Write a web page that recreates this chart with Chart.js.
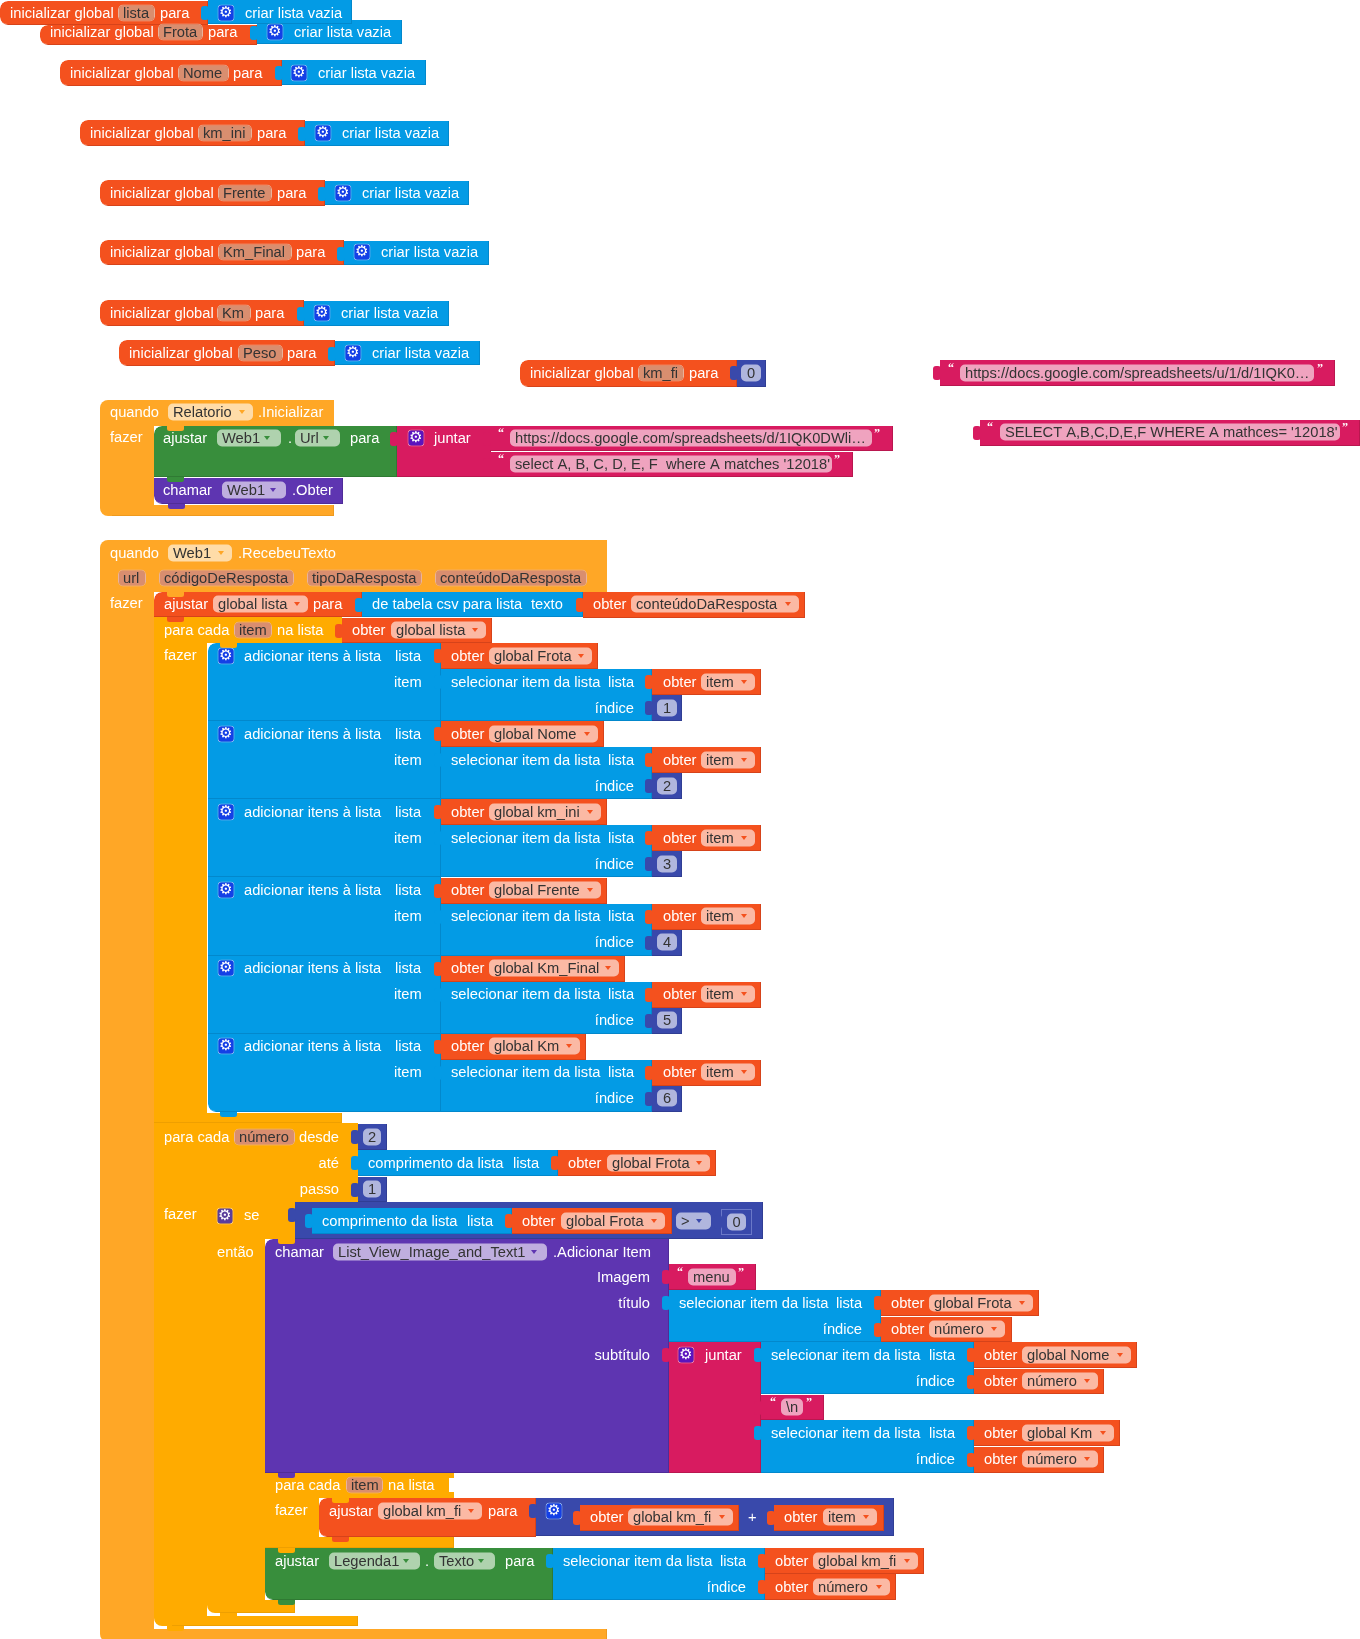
<!DOCTYPE html>
<html>
<head>
<meta charset="utf-8">
<title>Blocos</title>
<script src="https://cdn.jsdelivr.net/npm/chart.js@4"></script>
<style>
  html, body { margin: 0; padding: 0; background: #fff; overflow: hidden; }
  canvas { display: block; }
</style>
</head>
<body>
<canvas id="blocos" width="1360" height="1639"></canvas>
<script>
// Every block is [left, right, top, bottom] on the two linear axes of the chart
const eventColumns = [[100,154,400,516],[100,154,540,1642]];
const eventBars = [[112,334,400,426],[112,607,540,592]];
const eventFeet = [[112,334,505,516],[112,607,1629,1642]];
const roundedLoopColumns = [[207,265,1202,1613],[154,207,1123,1626]];
const loopBars = [[154,207,617,1123],[154,342,617,643],[154,358,1123,1202],
  [215,295,1202,1239],[265,319,1473,1548],[265,454,1473,1498]];
const loopFeet = [[154,342,1113,1123],[172,358,1616,1626],[220,295,1600,1613],[265,454,1537,1548]];
const emptySockets = [[449,455,1478,1492]];
const setterBlocks = [[154,397,426,477],[265,553,1548,1600]];
const procBlocks = [[154,343,478,504],[265,669,1239,1473]];
const mathBlocks = [[737,766,360,387],[652,682,695,721],[652,682,773,799],[652,682,851,877],[652,682,930,956],[652,682,1008,1034],[652,682,1086,1112],
  [358,387,1124,1150],[358,387,1177,1202],[295,763,1202,1239],[536,894,1498,1536]];
const outlinedNumber = [[721,752,1209,1235]];
const initBlocks = [[40,257,25,45],[0,208,1,25],[60,282,60,86],[80,305,120,146],[100,325,180,206],[100,344,240,265],[100,304,300,326],[119,335,340,366],[520,737,360,387]];
const setGlobalBlocks = [[154,362,592,617],[319,536,1498,1537]];
const addItemBlocks = [[208,441,643,721],[208,441,721,799],[208,441,799,877],[208,441,877,956],[208,441,956,1034],[208,441,1034,1112]];
const listBlocks = [[257,402,20,44],[208,352,0,24],[282,426,60,85],[305,449,121,146],[325,469,181,205],[344,489,241,265],[304,449,301,326],[335,480,341,365],
  [362,583,592,617],
  [441,652,669,721],[441,652,747,799],[441,652,825,877],[441,652,904,956],[441,652,982,1034],[441,652,1060,1112],
  [358,558,1150,1176],[312,512,1208,1234],[669,881,1290,1342],[761,974,1342,1394],[761,974,1420,1473],[553,765,1548,1600]];
const getterBlocks = [[583,805,592,618],[342,492,618,643],
  [441,598,643,669],[652,761,669,695],[441,604,721,747],[652,761,747,773],[441,607,799,825],[652,761,825,851],
  [441,607,878,904],[652,761,904,930],[441,625,956,982],[652,761,982,1008],[441,586,1034,1060],[652,761,1060,1086],
  [558,716,1150,1176],[512,672,1208,1234],[881,1039,1290,1316],[881,1012,1317,1342],[974,1137,1342,1368],[974,1104,1369,1394],
  [974,1120,1420,1446],[974,1104,1447,1473],[580,739,1505,1531],[774,884,1505,1531],[765,924,1548,1574],[765,896,1574,1600]];
const textBlocks = [[397,491,426,477],[490,893,426,451],[490,853,452,477],[940,1335,360,386],[980,1360,420,446],
  [669,756,1264,1290],[669,761,1342,1473],[761,824,1395,1420]];
// Small bumps that join statement blocks
const eventBumps = [[167,184,426,431],[167,184,592,597]];
const loopBumps = [[220,237,643,648],[167,184,1123,1128],[278,295,1239,1244],[332,349,1498,1503],[278,295,1548,1553],[220,237,1613,1618],[167,184,1626,1631]];
const setterBumps = [[167,184,477,482],[278,295,1600,1605]];
const procBumps = [[168,185,504,509],[278,295,1473,1478]];
const setGlobalBumps = [[167,184,617,622],[332,349,1537,1542]];
const addItemBumps = [[220,237,1112,1117]];

// Mutator buttons: [centre x, centre y]
const blueGears = [[226,13],[275,32],[299,73],[323,133],[343,193],[362,252],[322,313],[353,353],
  [226,656],[226,734],[226,812],[226,890],[226,968],[226,1046],[554,1511]];
const purpleGears = [[416,438],[686,1355]];
const amberGears = [[225,1216]];

// Text on the blocks: [text, x, y]
const whiteLabels = [
  ['inicializar global',10,13],['para',160,13],['criar lista vazia',245,13],
  ['inicializar global',50,32],['para',208,32],['criar lista vazia',294,32],
  ['inicializar global',70,73],['para',233,73],['criar lista vazia',318,73],
  ['inicializar global',90,133],['para',257,133],['criar lista vazia',342,133],
  ['inicializar global',110,193],['para',277,193],['criar lista vazia',362,193],
  ['inicializar global',110,252],['para',296,252],['criar lista vazia',381,252],
  ['inicializar global',110,313],['para',255,313],['criar lista vazia',341,313],
  ['inicializar global',129,353],['para',287,353],['criar lista vazia',372,353],
  ['inicializar global',530,373],['para',689,373],
  ['quando',110,412],['.Inicializar',258,412],['fazer',110,437],['ajustar',163,438],['.',288,438],['para',350,438],['juntar',434,438],
  ['chamar',163,490],['.Obter',292,490],
  ['quando',110,553],['.RecebeuTexto',238,553],['fazer',110,603],
  ['ajustar',164,604],['para',313,604],['de tabela csv para lista',372,604],['texto',531,604],['obter',593,604],
  ['para cada',164,630],['na lista',277,630],['obter',352,630],['fazer',164,655],
  ['adicionar itens à lista',244,656],['lista',395,656],['obter',451,656],['item',394,682],['selecionar item da lista',451,682],['lista',608,682],['obter',663,682],
  ['adicionar itens à lista',244,734],['lista',395,734],['obter',451,734],['item',394,760],['selecionar item da lista',451,760],['lista',608,760],['obter',663,760],
  ['adicionar itens à lista',244,812],['lista',395,812],['obter',451,812],['item',394,838],['selecionar item da lista',451,838],['lista',608,838],['obter',663,838],
  ['adicionar itens à lista',244,890],['lista',395,890],['obter',451,890],['item',394,916],['selecionar item da lista',451,916],['lista',608,916],['obter',663,916],
  ['adicionar itens à lista',244,968],['lista',395,968],['obter',451,968],['item',394,994],['selecionar item da lista',451,994],['lista',608,994],['obter',663,994],
  ['adicionar itens à lista',244,1046],['lista',395,1046],['obter',451,1046],['item',394,1072],['selecionar item da lista',451,1072],['lista',608,1072],['obter',663,1072],
  ['para cada',164,1137],['desde',299,1137],['comprimento da lista',368,1163],['lista',513,1163],['obter',568,1163],['fazer',164,1214],
  ['se',244,1215],['comprimento da lista',322,1221],['lista',467,1221],['obter',522,1221],['então',217,1252],
  ['chamar',275,1252],['.Adicionar Item',553,1252],
  ['selecionar item da lista',679,1303],['lista',836,1303],['obter',891,1303],['obter',891,1329],
  ['juntar',705,1355],['selecionar item da lista',771,1355],['lista',929,1355],['obter',984,1355],['obter',984,1381],
  ['selecionar item da lista',771,1433],['lista',929,1433],['obter',984,1433],['obter',984,1459],
  ['para cada',275,1485],['na lista',388,1485],['fazer',275,1510],['ajustar',329,1511],['para',488,1511],
  ['obter',590,1517],['+',748,1517],['obter',784,1517],
  ['ajustar',275,1561],['.',425,1561],['para',505,1561],['selecionar item da lista',563,1561],['lista',720,1561],['obter',775,1561],['obter',775,1587]
];
// Right aligned socket names: [text, right edge, y]
const socketLabels = [
  ['índice',634,708],['índice',634,786],['índice',634,864],['índice',634,942],['índice',634,1020],['índice',634,1098],
  ['até',339,1163],['passo',339,1189],['Imagem',650,1277],['título',650,1303],['índice',862,1329],['subtítulo',650,1355],
  ['índice',955,1381],['índice',955,1459],['índice',746,1587]
];
const quoteLabels = [
  ['“',501,434],['”',877,434],['“',501,460],['”',837,460],['“',951,369],['”',1320,369],['“',990,428],['”',1345,428],
  ['“',680,1273],['”',741,1273],['“',773,1403],['”',809,1403]
];

// Field pills: [text, left, right, centre y]
const varPills = [['lista',118,155,13],['Frota',158,203,32],['Nome',178,229,73],['km_ini',198,252,133],['Frente',218,272,193],['Km_Final',218,292,252],
  ['Km',217,251,313],['Peso',238,283,353],['km_fi',638,684,373],['url',118,146,578],['códigoDeResposta',159,294,578],['tipoDaResposta',307,422,578],
  ['conteúdoDaResposta',435,587,578],['item',234,272,630],['número',234,295,1137],['item',346,383,1485]];
const eventPills = [['Relatorio',168,253,412],['Web1',168,232,553]];
const setterPills = [['Web1',217,281,438],['Url',295,340,438],['Legenda1',329,420,1561],['Texto',434,495,1561]];
const procPills = [['Web1',222,286,490],['List_View_Image_and_Text1',333,547,1252]];
const getterPills = [['global lista',213,308,604],['conteúdoDaResposta',631,799,604],['global lista',391,486,630],
  ['global Frota',489,592,656],['item',701,755,682],['global Nome',489,598,734],['item',701,755,760],['global km_ini',489,601,812],['item',701,755,838],
  ['global Frente',489,601,890],['item',701,755,916],['global Km_Final',489,619,968],['item',701,755,994],['global Km',489,580,1046],['item',701,755,1072],
  ['global Frota',607,710,1163],['global Frota',561,665,1221],['global Frota',929,1033,1303],['número',929,1005,1329],
  ['global Nome',1022,1131,1355],['número',1022,1098,1381],['global Km',1022,1114,1433],['número',1022,1098,1459],
  ['global km_fi',378,482,1511],['global km_fi',628,733,1517],['item',823,877,1517],['global km_fi',813,918,1561],['número',813,890,1587]];
const numberPills = [['0',741,761,373],['1',657,677,708],['2',657,677,786],['3',657,677,864],['4',657,677,942],['5',657,677,1020],['6',657,677,1098],
  ['2',363,381,1137],['1',363,381,1189],['0',727,746,1222]];
const comparePills = [['>',676,711,1221]];
const stringPills = [['https://docs.google.com/spreadsheets/d/1IQK0DWli…',510,872,438],["select A, B, C, D, E, F  where A matches '12018'",510,832,464],
  ['https://docs.google.com/spreadsheets/u/1/d/1IQK0…',960,1314,373],["SELECT A,B,C,D,E,F WHERE A mathces= '12018'",1000,1340,432],
  ['menu',688,736,1277],['\\n',781,803,1407]];

const FONT = '14.7px "Liberation Sans", Arial, sans-serif';
const DARK_TEXT = '#333';
const colours = {
  event: '#FFA726', loop: '#FFAB00', setter: '#388E3C', proc: '#5E35B1', math: '#3949AB',
  init: '#F4511E', list: '#039BE5', text: '#D81B60'
};
const shades = {
  event: '#EF9A1E', loop: '#EE9F00', setter: '#2F7A33', proc: '#4F2C98', math: '#303E94',
  init: '#D6431A', list: '#0288CC', text: '#B9174F'
};

let datasets = [];

function addBar(box, colour, shade, radius, borderWidth) {
  datasets.push({
    stack: 'blocos',
    data: [{ x: [box[0], box[1]], y: (box[2] + box[3]) / 2 }],
    barThickness: box[3] - box[2],
    backgroundColor: colour,
    borderColor: shade || colour,
    borderWidth: borderWidth || 0,
    borderRadius: radius || 0,
    borderSkipped: false,
    inflateAmount: 0
  });
}

function addBlocks(boxes, kind, radius) {
  boxes.forEach(box => addBar(box, colours[kind], shades[kind], radius, { bottom: 1, right: 1 }));
}

function addFlat(boxes, kind, radius) {
  boxes.forEach(box => addBar(box, colours[kind], null, radius));
}

// Output tab sticking out on the left of a value block
function addTabs(boxes, kind) {
  boxes.forEach(box => addBar([box[0] - 7, box[0] + 1, box[2] + 6, box[2] + 20], colours[kind], null, 3));
}

function addBumps(boxes, kind) {
  boxes.forEach(box => addBar(box, colours[kind], null, { bottomLeft: 4, bottomRight: 4 }));
}

function addPills(pills, colour, border) {
  pills.forEach(p => addBar([p[1], p[2], p[3] - 8.5, p[3] + 8.5], colour, border, 5, border ? 1 : 0));
}

function addGears(gears, colour, border) {
  gears.forEach(g => addBar([g[0] - 8.5, g[0] + 8.5, g[1] - 8.5, g[1] + 8.5], colour, border, 4, 1));
}

const leftRound = { topLeft: 8, bottomLeft: 8 };
const topRound = { topLeft: 8 };
const bottomRound = { bottomLeft: 8 };

addFlat(eventColumns, 'event', leftRound);
addFlat(eventBars, 'event');
addBlocks(eventFeet, 'event');
addFlat(loopBars, 'loop');
addFlat(roundedLoopColumns, 'loop', bottomRound);
addBlocks(loopFeet, 'loop');
emptySockets.forEach(box => addBar(box, '#fff'));
addBlocks(setterBlocks.slice(0, 1), 'setter', topRound);
addBlocks(setterBlocks.slice(1), 'setter', bottomRound);
addBlocks(procBlocks.slice(0, 1), 'proc', bottomRound);
addBlocks(procBlocks.slice(1), 'proc', topRound);
addBlocks(mathBlocks, 'math');
addBar(outlinedNumber[0], colours.math, '#6A78C8', 0, 1);
addBlocks(addItemBlocks.slice(0, 1), 'list', topRound);
addBlocks(addItemBlocks.slice(1, 5), 'list');
addBlocks(addItemBlocks.slice(5), 'list', bottomRound);
addBlocks(listBlocks, 'list');
addBlocks(initBlocks, 'init', leftRound);
addBlocks(setGlobalBlocks.slice(0, 1), 'init', topRound);
addBlocks(setGlobalBlocks.slice(1), 'init', leftRound);
addBlocks(getterBlocks, 'init');
addBlocks(textBlocks, 'text');
addTabs(mathBlocks, 'math');
addTabs(outlinedNumber, 'math');
addTabs(listBlocks, 'list');
addTabs(getterBlocks, 'init');
addTabs(textBlocks, 'text');
addBumps(eventBumps, 'event');
addBumps(loopBumps, 'loop');
addBumps(setterBumps, 'setter');
addBumps(procBumps, 'proc');
addBumps(setGlobalBumps, 'init');
addBumps(addItemBumps, 'list');
addPills(varPills, '#D98E6F', '#E9B39C');
addPills(eventPills, '#FFDCA8');
addPills(setterPills, '#AFD2AE');
addPills(procPills, '#BFAEDF');
addPills(getterPills, '#FBB9A4');
addPills(numberPills, '#B0B6DD');
addPills(comparePills, '#B0B6DD');
addPills(stringPills, '#EFA3BF');
addGears(blueGears, '#1440E6', '#8FB4F2');
addGears(purpleGears, '#5A14BE', '#E88AB0');
addGears(amberGears, '#5B3E9B', '#FFD27A');

// later bars paint over earlier ones
datasets.forEach((d, i) => { d.order = datasets.length - i; });

const blockText = {
  id: 'blockText',
  afterDatasetsDraw(chart) {
    const ctx = chart.ctx;
    const xs = chart.scales.x;
    const ys = chart.scales.y;
    const put = (text, x, y, color, align, font) => {
      ctx.fillStyle = color;
      ctx.textAlign = align || 'left';
      ctx.font = font || FONT;
      ctx.fillText(text, xs.getPixelForValue(x), ys.getPixelForValue(y));
    };
    const arrow = (x, y, color) => {
      ctx.fillStyle = color;
      ctx.beginPath();
      ctx.moveTo(xs.getPixelForValue(x - 3), ys.getPixelForValue(y - 2));
      ctx.lineTo(xs.getPixelForValue(x + 3), ys.getPixelForValue(y - 2));
      ctx.lineTo(xs.getPixelForValue(x), ys.getPixelForValue(y + 2));
      ctx.fill();
    };
    ctx.save();
    ctx.textBaseline = 'middle';
    whiteLabels.forEach(l => put(l[0], l[1], l[2] + 0.5, '#fff'));
    socketLabels.forEach(l => put(l[0], l[1], l[2] + 0.5, '#fff', 'right'));
    quoteLabels.forEach(l => put(l[0], l[1], l[2], '#fff', 'center', 'bold 12px "Liberation Serif", serif'));
    [varPills, eventPills, setterPills, procPills, getterPills, comparePills].forEach(group => {
      group.forEach(p => put(p[0], p[1] + 5, p[3] + 0.5, DARK_TEXT));
    });
    stringPills.forEach(p => put(p[0], p[1] + 5, p[3] + 0.5, DARK_TEXT));
    numberPills.forEach(p => put(p[0], (p[1] + p[2]) / 2, p[3] + 0.5, DARK_TEXT, 'center'));
    eventPills.forEach(p => arrow(p[2] - 11, p[3], '#FFA726'));
    setterPills.forEach(p => arrow(p[2] - 14, p[3], '#388E3C'));
    procPills.forEach(p => arrow(p[2] - 13, p[3], '#5E35B1'));
    getterPills.forEach(p => arrow(p[2] - 11, p[3], '#F4511E'));
    comparePills.forEach(p => arrow(p[2] - 12, p[3], '#3949AB'));
    [blueGears, purpleGears, amberGears].forEach(group => {
      group.forEach(g => put('⚙', g[0], g[1] + 0.5, '#fff', 'center', '15px "DejaVu Sans"'));
    });
    ctx.restore();
  }
};

Chart.defaults.animation = false;

new Chart(document.getElementById('blocos'), {
  type: 'bar',
  data: { labels: [], datasets: datasets },
  options: {
    indexAxis: 'y',
    responsive: false,
    devicePixelRatio: 1,
    layout: { padding: 0 },
    plugins: { legend: { display: false }, tooltip: { enabled: false } },
    scales: {
      x: { type: 'linear', min: 0, max: 1360, display: false, stacked: false },
      y: { type: 'linear', min: 0, max: 1639, reverse: true, display: false, offset: false }
    }
  },
  plugins: [blockText]
});
</script>
</body>
</html>
